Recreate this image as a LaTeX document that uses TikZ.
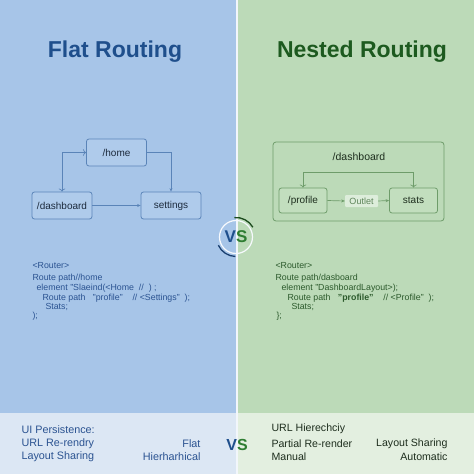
\documentclass[tikz,border=0pt]{standalone}
\usepackage{fontspec}
\setmainfont{Liberation Sans}
\usetikzlibrary{arrows.meta}
\definecolor{bgL}{HTML}{A7C5E8}
\definecolor{bgR}{HTML}{BCDAB8}
\definecolor{botL}{HTML}{DCE7F4}
\definecolor{botR}{HTML}{E3EFE0}
\definecolor{titL}{HTML}{1F4F8C}
\definecolor{titR}{HTML}{1D5A1F}
\definecolor{boxLfill}{HTML}{AFCBEB}
\definecolor{boxLdraw}{HTML}{5A84B8}
\definecolor{boxRfill}{HTML}{C2DEBE}
\definecolor{boxRdraw}{HTML}{6E9C6A}
\definecolor{codeL}{HTML}{2B5391}
\definecolor{codeR}{HTML}{2C5A2C}
\definecolor{txtD}{HTML}{1C2A3C}
\definecolor{txtG}{HTML}{1E2E1E}
\definecolor{vsB}{HTML}{1F4F8C}
\definecolor{vsG}{HTML}{2E7D32}
\tikzset{
  fs/.style={font=\fontsize{#1}{#1}\selectfont},
  lbox/.style={draw=boxLdraw, fill=boxLfill, rounded corners=2.5pt, line width=0.8pt, minimum width=60pt, minimum height=27pt, text=txtD, fs=10},
  rbox/.style={draw=boxRdraw, fill=boxRfill, rounded corners=2.5pt, line width=0.8pt, minimum width=48pt, minimum height=25pt, text=txtG, fs=10},
  larr/.style={draw=boxLdraw, line width=0.7pt, -{Stealth[length=3.5pt,width=3pt]}},
  rarr/.style={draw=boxRdraw, line width=0.7pt, -{Stealth[length=3.5pt,width=3pt]}},
  codel/.style={anchor=west, text=codeL, fs=8.8},
  coder/.style={anchor=west, text=codeR, fs=8.8},
  botl/.style={text=codeL, fs=10.8},
  botr/.style={text=txtG, fs=10.6},
}
\begin{document}
\begin{tikzpicture}[x=1pt,y=-1pt]
\useasboundingbox (0,0) rectangle (474,474);
% backgrounds
\fill[bgL] (0,0) rectangle (236,474);
\fill[bgR] (238,0) rectangle (474,474);
\fill[botL] (0,413) rectangle (236,474);
\fill[botR] (238,413) rectangle (474,474);
\fill[white!85!bgL] (236,0) rectangle (238,474);
% titles
\node[text=titL, font=\fontsize{23}{26}\selectfont\bfseries] (tl) at (115,52) {Flat Routing};
\node[text=titR, font=\fontsize{23}{26}\selectfont\bfseries] (tr) at (362,52) {Nested Routing};
% left diagram
\node[lbox] (home) at (116.5,152.5) {/home};
\node[lbox] (dash) at (62,205.5) {/dashboard};
\node[lbox] (sett) at (171,205.5) {settings};
\draw[larr, <->] (home.west) -| (dash.north);
\draw[larr] (home.east) -| (sett.north);
\draw[larr] (dash.east) -- (sett.west);
% right diagram
\node[draw=boxRdraw, rounded corners=3pt, line width=0.8pt, minimum width=171pt, minimum height=79pt] (outer) at (358.5,181.5) {};
\node[text=txtG, fs=10.5] (dlab) at (359,157) {/dashboard};
\node[rbox] (prof) at (303,200.5) {/profile};
\node[rbox] (stats) at (413.5,200.5) {stats};
\node[fill=white!45!boxRfill, rounded corners=1pt, minimum width=33pt, minimum height=12pt, inner sep=1pt, text=boxRdraw!85!black, fs=9] (outl) at (361.5,201) {Outlet};
\coordinate (lp) at (303,172);
\draw[rarr, <->] (prof.north) -- (lp) -| (stats.north);
\draw[rarr] (prof.east) -- (outl.west);
\draw[rarr] (outl.east) -- (stats.west);
% VS circle
\node[circle, draw=white!90!bgL, line width=1.2pt, minimum size=33pt, inner sep=0pt, font=\fontsize{17}{17}\selectfont\bfseries] (vs) at (236,237) {\textcolor{vsB}{V}\textcolor{vsG}{S}};
\draw[vsG!60!black, line width=1.3pt] (vs.center) ++(-30:19.5) arc (-30:-95:19.5);
\draw[vsB!80!black, line width=1.3pt] (vs.center) ++(-205:19.5) arc (-205:-268:19.5);
% left code
\node[codel] (lc1) at (29,266) {<Router>};
\node[codel] (lc2) at (29,278) {Route path//home};
\node[codel] (lc3) at (33,288) {element "Slaeind(<Home~ //~ ) ;};
\node[codel] (lc4) at (39,298) {Route path~~~"profile"~~~~// <Settings"~ );};
\node[codel] (lc5) at (42,307) {Stats;};
\node[codel] (lc6) at (29,316) {);};
% right code
\node[coder] (rc1) at (272,266) {<Router>};
\node[coder] (rc2) at (272,278) {Route path/dasboard};
\node[coder] (rc3) at (278,288) {element "DashboardLayout>);};
\node[coder] (rc4) at (284,298) {Route path~~~\textbf{"profile"}~~~~// <Profile"~ );};
\node[coder] (rc5) at (288,307) {Stats;};
\node[coder] (rc6) at (273,316) {\};};
% bottom left
\node[botl, anchor=west] (b1) at (18,430) {UI Persistence:};
\node[botl, anchor=west] (b2) at (18,443.5) {URL Re-rendry};
\node[botl, anchor=west] (b3) at (18,457) {Layout Sharing};
\node[botl, anchor=east] (b4) at (204,443.5) {Flat};
\node[botl, anchor=east] (b5) at (204,457) {Hierharhical};
% bottom VS
\node[font=\fontsize{16}{16}\selectfont\bfseries] (vs2) at (237,445) {\textcolor{vsB}{V}\textcolor{vsG}{S}};
% bottom right
\node[botr, anchor=west] (c1) at (268,429) {URL Hierechciy};
\node[botr, anchor=west] (c2) at (268,443.5) {Partial Re-render};
\node[botr, anchor=west] (c3) at (268,457) {Manual};
\node[botr, anchor=east] (c4) at (451,443.5) {Layout Sharing};
\node[botr, anchor=east] (c5) at (451,457) {Automatic};
\end{tikzpicture}
\end{document}
